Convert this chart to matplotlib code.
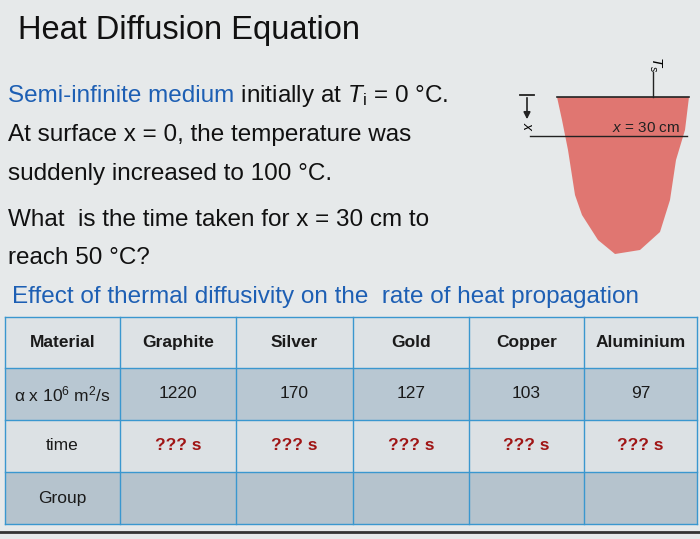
import matplotlib
matplotlib.use("Agg")
import matplotlib.pyplot as plt
from matplotlib.patches import Rectangle, Polygon

header = ["Material", "Graphite", "Silver", "Gold", "Copper", "Aluminium"]
alpha_label = r"α x 10$^6$ m$^2$/s"
alpha_vals = ["1220", "170", "127", "103", "97"]
time_label = "time"
time_vals = ["??? s"] * 5
group_label = "Group"

plt.rcParams['font.family'] = ['Liberation Sans', 'DejaVu Sans']
plt.rcParams['mathtext.fontset'] = 'custom'
plt.rcParams['mathtext.rm'] = 'Liberation Sans'
plt.rcParams['mathtext.it'] = 'Liberation Sans:italic'
fig = plt.figure(figsize=(7, 5.39), dpi=100)
ax = fig.add_axes([0, 0, 1, 1])
ax.set_xlim(0, 700); ax.set_ylim(539, 0); ax.axis('off')
fig.patch.set_facecolor('#e6e9ea')

blue = '#1d5fb4'
fs = 17.5
ax.text(18, 30, "Heat Diffusion Equation", fontsize=23.5, va='center', color='#111')
t1 = ax.text(8, 96, "Semi-infinite medium", fontsize=fs, va='center', color=blue)
fig.canvas.draw()
bb = t1.get_window_extent()
x_end = bb.x1
ax.text(x_end, 96, r" initially at $T_{\rm i}$ = 0 °C.", fontsize=fs, va='center', color='#111')
ax.text(8, 135, "At surface x = 0, the temperature was", fontsize=fs, va='center', color='#111')
ax.text(8, 174, "suddenly increased to 100 °C.", fontsize=fs, va='center', color='#111')
ax.text(8, 220, "What  is the time taken for x = 30 cm to", fontsize=fs, va='center', color='#111')
ax.text(8, 258, "reach 50 °C?", fontsize=fs, va='center', color='#111')
ax.text(12, 297, "Effect of thermal diffusivity on the  rate of heat propagation", fontsize=fs,
        va='center', color=blue)

# diagram
shape = [(557, 97), (689, 97), (685, 130), (676, 160), (670, 200), (660, 232), (640, 250),
         (615, 254), (598, 240), (582, 215), (575, 195), (568, 150), (562, 120)]
ax.add_patch(Polygon(shape, closed=True, facecolor='#e06a64', edgecolor='none', alpha=0.9))
ax.plot([557, 689], [97, 97], color='#222', lw=1.2)
ax.plot([530, 687], [136, 136], color='#222', lw=1)
ax.plot([653, 653], [72, 97], color='#222', lw=1)
ax.text(655, 64, r"$T_s$", rotation=-90, fontsize=11, ha='center', va='center')
ax.text(680, 128, r"$x$ = 30 cm", fontsize=11, ha='right', va='center', color='#222')
ax.plot([520, 534], [95, 95], color='#222', lw=1.3)
ax.annotate("", xy=(527, 122), xytext=(527, 95), arrowprops=dict(arrowstyle='-|>', color='#222', lw=1.2))
ax.text(527, 127, r"$x$", rotation=-90, fontsize=10, ha='center', va='center')

# table
xs = [5, 120, 236, 353, 469, 584, 697]
ys = [317, 368, 420, 472, 524]
fills = ['#dde2e5', '#b8c7d2', '#dce1e4', '#b5c3cd']
rows = [header, [alpha_label] + alpha_vals, [time_label] + time_vals, [group_label] + [""] * 5]
for r, row in enumerate(rows):
    ax.add_patch(Rectangle((xs[0], ys[r]), xs[-1] - xs[0], ys[r + 1] - ys[r], facecolor=fills[r], edgecolor='none'))
    for c, txt in enumerate(row):
        cx = (xs[c] + xs[c + 1]) / 2
        cy = (ys[r] + ys[r + 1]) / 2
        color = '#a01515' if (r == 2 and c > 0) else '#1a1a1a'
        weight = 'bold' if (r == 0 or (r == 2 and c > 0)) else 'normal'
        ax.text(cx, cy, txt, fontsize=12.5, ha='center', va='center',
                color=color, fontweight=weight)
for x in xs:
    ax.plot([x, x], [ys[0], ys[-1]], color='#3a97cf', lw=1)
for y in ys:
    ax.plot([xs[0], xs[-1]], [y, y], color='#3a97cf', lw=1)
ax.plot([0, 700], [532, 532], color='#333', lw=2)

fig.savefig("out.png", dpi=100, facecolor=fig.get_facecolor())
